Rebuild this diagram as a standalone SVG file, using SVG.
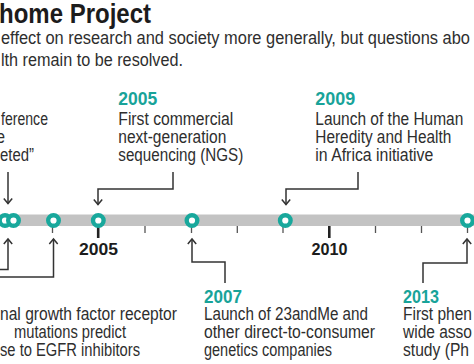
<svg xmlns="http://www.w3.org/2000/svg" width="474" height="364" viewBox="0 0 474 364">
<style>
text{font-family:"Liberation Sans Narrow","Liberation Sans",Arial,sans-serif;fill:#2e2e2e}
.t{font-size:28px;font-weight:bold;fill:#1c1c1c}
.s{font-size:17.5px}
.b{font-size:17.5px}
.y{font-size:17.5px;font-weight:bold;fill:#18a399}
.ax{font-size:17px;font-weight:bold;fill:#1c1c1c}
.c{fill:none;stroke:#333;stroke-width:1.5}
.ring{fill:#fff;stroke:#18a89c;stroke-width:4.4}
.mt{stroke:#555;stroke-width:1.3}
.Mt{stroke:#222;stroke-width:2.6}
</style>
<defs>
<marker id="ah" markerUnits="userSpaceOnUse" markerWidth="12" markerHeight="12" refX="0" refY="0" viewBox="-7 -6 9 12" orient="auto">
<path d="M-5,-4.2 L0,0 L-5,4.2" fill="none" stroke="#333" stroke-width="1.5"/>
</marker>
</defs>
<rect width="474" height="364" fill="#fff"/>
<g id="header">
<text class="t" x="-1" y="23" textLength="152" lengthAdjust="spacingAndGlyphs">home Project</text>
<text class="s" x="1" y="43.5" textLength="469" lengthAdjust="spacingAndGlyphs">effect on research and society more generally, but questions abo</text>
<text class="s" x="1" y="65.5" textLength="182" lengthAdjust="spacingAndGlyphs">lth remain to be resolved.</text>
</g>
<g id="axis">
<rect x="0" y="214.5" width="474" height="11.5" fill="#c3c3c3"/>
<line class="mt" x1="52.5" y1="226" x2="52.5" y2="233"/>
<line class="Mt" x1="98.2" y1="226" x2="98.2" y2="238"/>
<line class="mt" x1="145" y1="226" x2="145" y2="233"/>
<line class="mt" x1="191.5" y1="226" x2="191.5" y2="233"/>
<line class="mt" x1="237.3" y1="226" x2="237.3" y2="233"/>
<line class="mt" x1="283" y1="226" x2="283" y2="233"/>
<line class="Mt" x1="329.3" y1="226" x2="329.3" y2="238"/>
<line class="mt" x1="375.5" y1="226" x2="375.5" y2="233"/>
<line class="mt" x1="421.5" y1="226" x2="421.5" y2="233"/>
<line class="mt" x1="467.5" y1="226" x2="467.5" y2="233"/>
<text class="ax" x="98.5" y="255" text-anchor="middle" textLength="39" lengthAdjust="spacingAndGlyphs">2005</text>
<text class="ax" x="329.5" y="255" text-anchor="middle" textLength="36" lengthAdjust="spacingAndGlyphs">2010</text>
</g>
<g id="connectors">
<path class="c" d="M8,172 V203.5" marker-end="url(#ah)"/>
<path class="c" d="M173,172 V189 H98 V204.5" marker-end="url(#ah)"/>
<path class="c" d="M358,172 V189 H286 V204.5" marker-end="url(#ah)"/>
<path class="c" d="M0,269.5 H8 V239" marker-end="url(#ah)"/>
<path class="c" d="M0,277 H53.5 V239" marker-end="url(#ah)"/>
<path class="c" d="M225,283 V262 H192 V239" marker-end="url(#ah)"/>
<path class="c" d="M423,283 V263 H467 V239" marker-end="url(#ah)"/>
</g>
<g id="markers">
<circle class="ring" cx="5" cy="220.5" r="5.3"/>
<circle class="ring" cx="13.5" cy="220.5" r="5.3"/>
<circle class="ring" cx="53.5" cy="220.5" r="5.3"/>
<circle class="ring" cx="98.3" cy="220.5" r="5.3"/>
<circle class="ring" cx="192" cy="220.5" r="5.3"/>
<circle class="ring" cx="285.3" cy="220.5" r="5.3"/>
<circle class="ring" cx="467.5" cy="220.5" r="5.3"/>
</g>
<g id="node-reference">
<text class="b" x="1" y="125" textLength="47" lengthAdjust="spacingAndGlyphs">ference</text>
<text class="b" x="-3.5" y="143" textLength="8.5" lengthAdjust="spacingAndGlyphs">e</text>
<text class="b" x="0" y="161" textLength="34" lengthAdjust="spacingAndGlyphs">eted”</text>
</g>
<g id="node-2005">
<text class="y" x="118.3" y="105" textLength="39" lengthAdjust="spacingAndGlyphs">2005</text>
<text class="b" x="118.3" y="125" textLength="115" lengthAdjust="spacingAndGlyphs">First commercial</text>
<text class="b" x="118.3" y="143" textLength="108" lengthAdjust="spacingAndGlyphs">next-generation</text>
<text class="b" x="118.3" y="161" textLength="125" lengthAdjust="spacingAndGlyphs">sequencing (NGS)</text>
</g>
<g id="node-2009">
<text class="y" x="315.3" y="105" textLength="40" lengthAdjust="spacingAndGlyphs">2009</text>
<text class="b" x="315.3" y="125" textLength="148" lengthAdjust="spacingAndGlyphs">Launch of the Human</text>
<text class="b" x="315.3" y="143" textLength="136" lengthAdjust="spacingAndGlyphs">Heredity and Health</text>
<text class="b" x="315.3" y="161" textLength="118" lengthAdjust="spacingAndGlyphs">in Africa initiative</text>
</g>
<g id="node-egfr">
<text class="b" x="0" y="320" textLength="177" lengthAdjust="spacingAndGlyphs">nal growth factor receptor</text>
<text class="b" x="14" y="338" textLength="112" lengthAdjust="spacingAndGlyphs">mutations predict</text>
<text class="b" x="0" y="356" textLength="140" lengthAdjust="spacingAndGlyphs">se to EGFR inhibitors</text>
</g>
<g id="node-2007">
<text class="y" x="204" y="303" textLength="38" lengthAdjust="spacingAndGlyphs">2007</text>
<text class="b" x="204" y="320" textLength="164" lengthAdjust="spacingAndGlyphs">Launch of 23andMe and</text>
<text class="b" x="204" y="338" textLength="171" lengthAdjust="spacingAndGlyphs">other direct-to-consumer</text>
<text class="b" x="204" y="356" textLength="128" lengthAdjust="spacingAndGlyphs">genetics companies</text>
</g>
<g id="node-2013">
<text class="y" x="403" y="303" textLength="36" lengthAdjust="spacingAndGlyphs">2013</text>
<text class="b" x="403" y="320" textLength="69" lengthAdjust="spacingAndGlyphs">First phen</text>
<text class="b" x="403" y="338" textLength="69" lengthAdjust="spacingAndGlyphs">wide asso</text>
<text class="b" x="403" y="356" textLength="66" lengthAdjust="spacingAndGlyphs">study (Ph</text>
</g>
</svg>
